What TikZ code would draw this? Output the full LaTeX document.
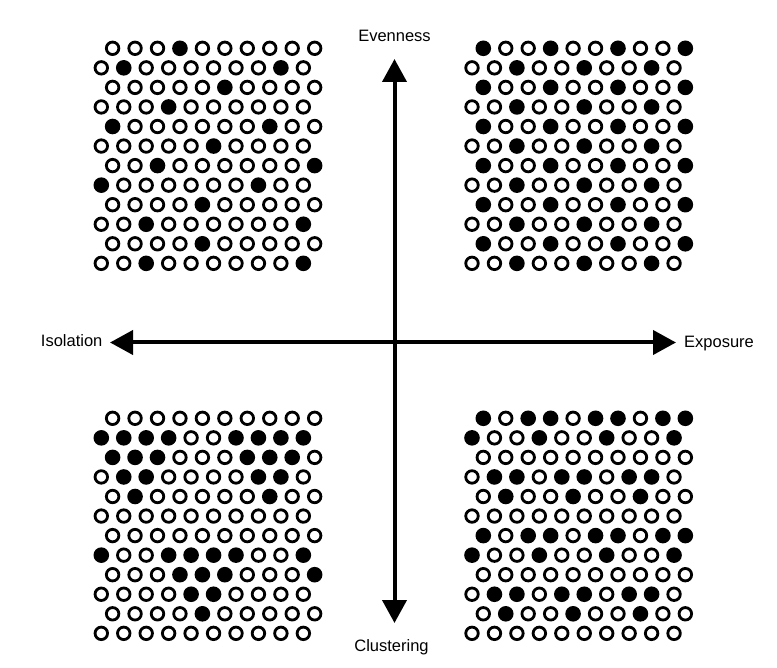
\documentclass[tikz,border=0pt]{standalone}
\usepackage{fontspec}
\setmainfont{Liberation Sans}
\usetikzlibrary{arrows.meta}
\tikzset{
  ring/.style={draw=black, line width=2.8pt, fill=white},
  dot/.style={fill=black},
  axis/.style={line width=4pt, {Triangle[length=23pt,width=24pt]}-{Triangle[length=23pt,width=24pt]}},
  lbl/.style={font=\fontsize{16.5}{18}\selectfont, inner sep=0pt, anchor=base}
}
\newcommand\dotgrid[3]{%
  \foreach \row [count=\r from 0] in {#3} {
    \pgfmathsetmacro\yy{#2+19.55*\r}
    \ifodd\r \pgfmathsetmacro\xs{#1}\else\pgfmathsetmacro\xs{#1+11.3}\fi
    \foreach \v [count=\c from 0] in \row {
      \pgfmathsetmacro\xx{\xs+22.45*\c}
      \ifnum\v=1\relax
        \fill[dot] (\xx,\yy) circle[radius=7.8pt];
      \else
        \draw[ring] (\xx,\yy) circle[radius=6.25pt];
      \fi
    }
  }
}
\begin{document}
\begin{tikzpicture}[x=1pt,y=-1pt]
\useasboundingbox (0,0) rectangle (777,668);
\fill[white] (0,0) rectangle (777,668);

% top-left
\dotgrid{101.3}{48.3}{
{0,0,0,1,0,0,0,0,0,0},
{0,1,0,0,0,0,0,0,1,0},
{0,0,0,0,0,1,0,0,0,0},
{0,0,0,1,0,0,0,0,0,0},
{1,0,0,0,0,0,0,1,0,0},
{0,0,0,0,0,1,0,0,0,0},
{0,0,1,0,0,0,0,0,0,1},
{1,0,0,0,0,0,0,1,0,0},
{0,0,0,0,1,0,0,0,0,0},
{0,0,1,0,0,0,0,0,0,1},
{0,0,0,0,1,0,0,0,0,0},
{0,0,1,0,0,0,0,0,0,1}}

% top-right
\dotgrid{472}{48.3}{
{1,0,0,1,0,0,1,0,0,1},
{0,0,1,0,0,1,0,0,1,0},
{1,0,0,1,0,0,1,0,0,1},
{0,0,1,0,0,1,0,0,1,0},
{1,0,0,1,0,0,1,0,0,1},
{0,0,1,0,0,1,0,0,1,0},
{1,0,0,1,0,0,1,0,0,1},
{0,0,1,0,0,1,0,0,1,0},
{1,0,0,1,0,0,1,0,0,1},
{0,0,1,0,0,1,0,0,1,0},
{1,0,0,1,0,0,1,0,0,1},
{0,0,1,0,0,1,0,0,1,0}}

% bottom-left
\dotgrid{101.3}{418.3}{
{0,0,0,0,0,0,0,0,0,0},
{1,1,1,1,0,0,1,1,1,1},
{1,1,1,0,0,0,1,1,1,0},
{0,1,1,0,0,0,0,1,1,0},
{0,1,0,0,0,0,0,1,0,0},
{0,0,0,0,0,0,0,0,0,0},
{0,0,0,0,0,0,0,0,0,0},
{1,0,0,1,1,1,1,0,0,1},
{0,0,0,1,1,1,0,0,0,1},
{0,0,0,0,1,1,0,0,0,0},
{0,0,0,0,1,0,0,0,0,0},
{0,0,0,0,0,0,0,0,0,0}}

% bottom-right
\dotgrid{472}{418.3}{
{1,0,1,1,0,1,1,0,1,1},
{1,0,0,1,0,0,1,0,0,1},
{0,0,0,0,0,0,0,0,0,0},
{0,1,1,0,1,1,0,1,1,0},
{0,1,0,0,1,0,0,1,0,0},
{0,0,0,0,0,0,0,0,0,0},
{1,0,1,1,0,1,1,0,1,1},
{1,0,0,1,0,0,1,0,0,1},
{0,0,0,0,0,0,0,0,0,0},
{0,1,1,0,1,1,0,1,1,0},
{0,1,0,0,1,0,0,1,0,0},
{0,0,0,0,0,0,0,0,0,0}}

% axes
\coordinate (N) at (394.5,59);
\coordinate (S) at (394.5,623);
\coordinate (W) at (110,342.5);
\coordinate (E) at (676,342.5);
\draw[axis] (S) -- (N);
\draw[axis] (W) -- (E);

\node[lbl] (even) at (394.5,41.7) {Evenness};
\node[lbl] (clus) at (391.5,651) {Clustering};
\node[lbl] (iso) at (71.7,346.7) {Isolation};
\node[lbl] (expo) at (719,347.3) {Exposure};
\end{tikzpicture}
\end{document}
